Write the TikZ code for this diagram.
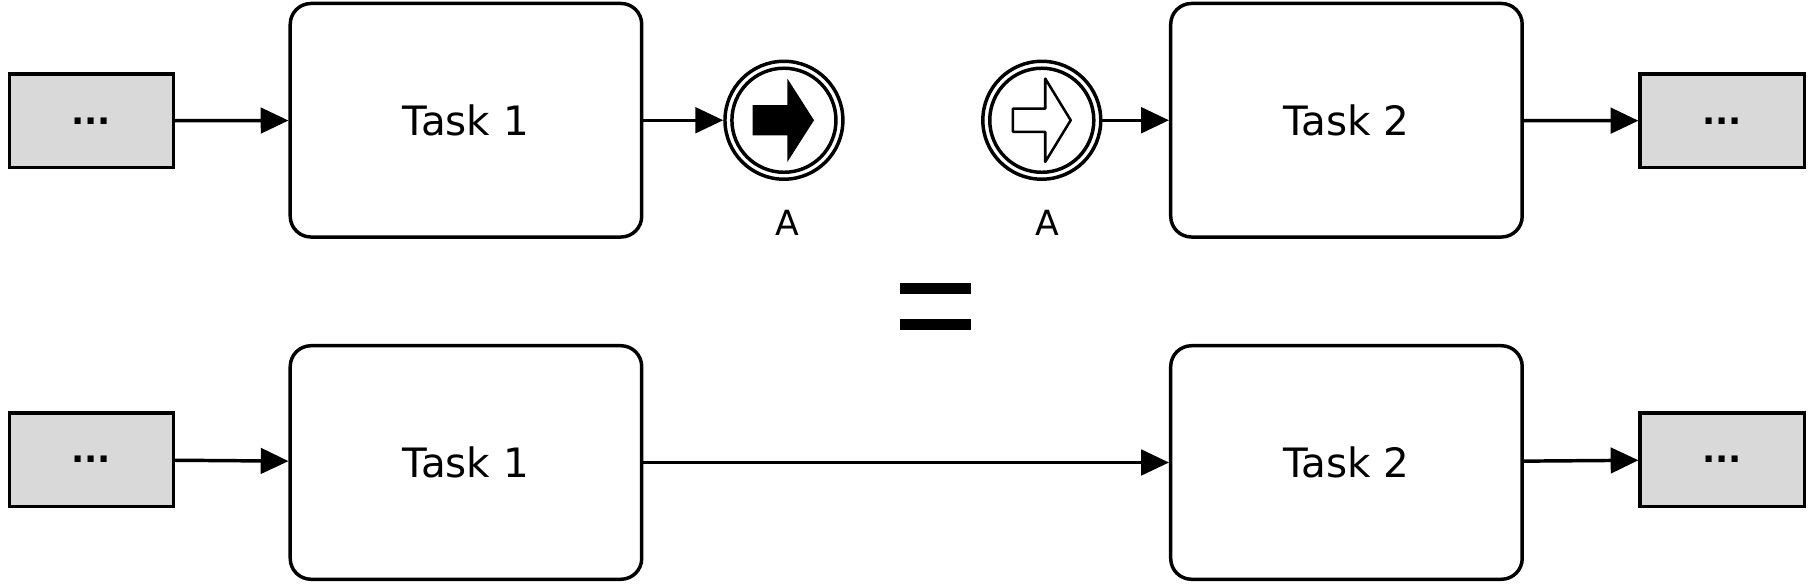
\documentclass[tikz,border=0pt]{standalone}
\usepackage{fontspec}
\setmainfont{DejaVu Sans}
\usetikzlibrary{arrows.meta}
\begin{document}
\begin{tikzpicture}[x=1pt,y=-1pt,
  lw/.style={line width=3pt},
  gray/.style={lw,draw=black,fill=black!15,minimum width=142pt,minimum height=81pt,inner sep=0pt,font=\fontsize{30}{30}\selectfont\bfseries},
  task/.style={lw,draw=black,rounded corners=18pt,minimum width=304pt,minimum height=202pt,inner sep=0pt,font=\fontsize{35}{35}\selectfont},
  ev/.style={circle,lw,draw=black,minimum size=102pt,inner sep=0pt},
  flow/.style={lw,-{Triangle[length=24pt,width=22pt]}},
  lab/.style={font=\fontsize{30}{30}\selectfont}]
\useasboundingbox (0,0) rectangle (1568,505);
% top row
\node[gray] (g1) at (79,104.5) {...};
\node[task] (t1) at (403,104) {Task 1};
\node[ev] (e1) at (678,104) {};
\draw[lw] (e1.center) circle (45);
\fill (e1.center) ++(-27,-13) -- ++(30,0) -- ++(0,-23) -- ++(23,36) -- ++(-23,36) -- ++(0,-23) -- ++(-30,0) -- cycle;
\node[lab] (la1) at (681,193) {A};
\node[ev] (s2) at (901,104) {};
\draw[lw] (s2.center) circle (45);
\draw[line width=2.2pt,line join=round] (s2.center) ++(-25,-10) -- ++(28,0) -- ++(0,-26) -- ++(22,36) -- ++(-22,36) -- ++(0,-26) -- ++(-28,0) -- cycle;
\node[lab] (la2) at (906,193) {A};
\node[task] (t2) at (1164.5,104) {Task 2};
\node[gray] (g2) at (1489.5,104.5) {...};
\draw[flow] (g1) -- (t1);
\draw[flow] (t1) -- (e1);
\draw[flow] (s2) -- (t2);
\draw[flow] (t2) -- (g2);
% equals
\fill (778,245) rectangle (840,254);
\fill (778,276) rectangle (840,285);
% bottom row
\node[gray] (g3) at (79,397.5) {...};
\node[task] (t3) at (403,400) {Task 1};
\node[task] (t4) at (1164.5,400) {Task 2};
\node[gray] (g4) at (1489.5,397.5) {...};
\draw[flow] (g3) -- (t3);
\draw[flow] (t3) -- (t4);
\draw[flow] (t4) -- (g4);
\end{tikzpicture}
\end{document}
